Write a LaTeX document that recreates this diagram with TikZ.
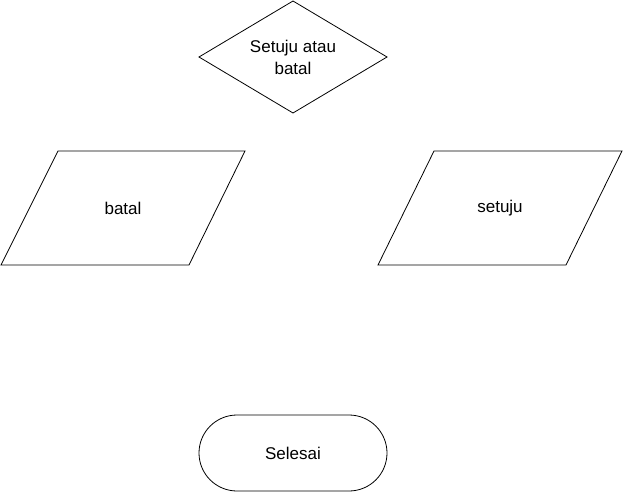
\documentclass[tikz,border=0pt]{standalone}
\usepackage{fontspec}
\setmainfont{Liberation Sans}
\begin{document}
\begin{tikzpicture}[x=1pt,y=-1pt,shape line/.style={draw=black,line width=0.8pt},lbl/.style={font=\fontsize{17}{22}\selectfont,align=center}]
\useasboundingbox (0,0) rectangle (624,492);
\draw[shape line] (293,1) -- (387,57) -- (293,113) -- (199,57) -- cycle;
\node[lbl] (q) at (293,57) {Setuju atau\\batal};
\draw[shape line] (58,151) -- (245,151) -- (189,265) -- (1,265) -- cycle;
\node[lbl] (b) at (123,208) {batal};
\draw[shape line] (434,151) -- (622,151) -- (566,265) -- (378,265) -- cycle;
\node[lbl] (s) at (500,208) {setuju};
\draw[shape line,rounded corners=38pt] (199,415) rectangle (387,491);
\node[lbl] (e) at (293,453) {Selesai};
\end{tikzpicture}
\end{document}
